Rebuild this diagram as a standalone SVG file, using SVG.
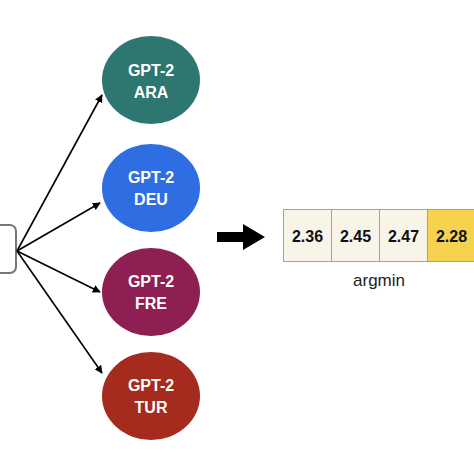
<svg xmlns="http://www.w3.org/2000/svg" width="474" height="474" viewBox="0 0 474 474">
<style>
.t{font-family:"Liberation Sans",Arial,sans-serif;font-weight:bold;font-size:16px;fill:#ffffff;text-anchor:middle}
.c{fill:#f8f5e8;stroke:#a8a293;stroke-width:1}
.v{font-family:"Liberation Sans",Arial,sans-serif;font-weight:bold;font-size:16px;fill:#111;text-anchor:middle}
.e{stroke:#000;stroke-width:1.6;fill:none;marker-end:url(#ah)}
</style>
<defs>
<marker id="ah" viewBox="0 0 10 10" refX="9" refY="5" markerWidth="8" markerHeight="8" orient="auto" markerUnits="userSpaceOnUse"><path d="M0,0 L10,5 L0,10 z" fill="#000"/></marker>
</defs>
<rect width="474" height="474" fill="#ffffff"/>
<g id="input"><rect x="-20" y="225" width="36" height="48" rx="6" fill="#ffffff" stroke="#777" stroke-width="2"/></g>
<g id="connectors">
<line class="e" x1="17" y1="251" x2="102" y2="95"/>
<line class="e" x1="17" y1="251" x2="100" y2="203"/>
<line class="e" x1="17" y1="251" x2="100" y2="292"/>
<line class="e" x1="17" y1="251" x2="102" y2="373"/>
<path d="M217,232 L243,232 L243,224 L265,237 L243,250 L243,242 L217,242 z" fill="#000"/>
</g>
<g id="ara"><ellipse cx="151" cy="80" rx="49" ry="44" fill="#2e7670"/><text class="t" x="151" y="76">GPT-2</text><text class="t" x="151" y="98">ARA</text></g>
<g id="deu"><ellipse cx="151" cy="188" rx="49" ry="44" fill="#2f6ee2"/><text class="t" x="151" y="183">GPT-2</text><text class="t" x="151" y="205">DEU</text></g>
<g id="fre"><ellipse cx="151" cy="292" rx="49" ry="44" fill="#8d1f52"/><text class="t" x="151" y="287">GPT-2</text><text class="t" x="151" y="309">FRE</text></g>
<g id="tur"><ellipse cx="151" cy="396" rx="49" ry="44" fill="#a42b1d"/><text class="t" x="151" y="391">GPT-2</text><text class="t" x="151" y="413">TUR</text></g>
<g id="table">
<rect class="c" x="283.5" y="209.5" width="48" height="52"/>
<rect class="c" x="331.5" y="209.5" width="48" height="52"/>
<rect class="c" x="379.5" y="209.5" width="48" height="52"/>
<rect x="427.5" y="209.5" width="48" height="52" fill="#f7d24e" stroke="#a8a293"/>
<text class="v" x="307.5" y="241.5">2.36</text>
<text class="v" x="355.5" y="241.5">2.45</text>
<text class="v" x="403.5" y="241.5">2.47</text>
<text class="v" x="451.5" y="241.5">2.28</text>
<text x="379" y="286" font-family="Liberation Sans,Arial,sans-serif" font-size="17" fill="#222" text-anchor="middle">argmin</text>
</g>
</svg>
